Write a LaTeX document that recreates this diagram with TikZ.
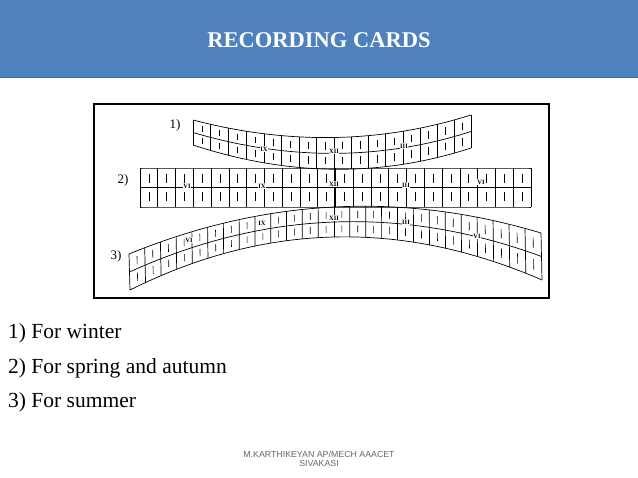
\documentclass[tikz,border=0pt]{standalone}
\usepackage{fontspec}
\setmainfont{Liberation Serif}
\newfontfamily\footfont{Liberation Sans}
\definecolor{hdr}{HTML}{4F81BD}
\definecolor{hdredge}{HTML}{3A6AA3}
\begin{document}
\begin{tikzpicture}[x=1pt,y=-1pt,
  cardline/.style={line width=0.7pt,black},
  tick/.style={line width=0.6pt,black},
  num/.style={font=\fontsize{6.5}{6.5}\selectfont\bfseries,inner sep=0.5pt,fill=white},
  item/.style={font=\fontsize{21.5}{21.5}\selectfont,anchor=west,inner sep=0pt}]
\useasboundingbox (0,0) rectangle (638,478);
\fill[white] (0,0) rectangle (638,478);
\fill[hdr] (0,0) rectangle (638,78);
\draw[hdredge,line width=1pt] (0,78) -- (638,78);
\node[text=white,font=\fontsize{22.5}{22.5}\selectfont\bfseries] (title) at (319,40) {RECORDING CARDS};
\draw[line width=2pt] (94,104) rectangle (549,298);
\newcommand\drawcard[1]{%
 \draw[cardline] (\tlx,\tly) .. controls ({\tlx/3+2*\tcx/3},{\tly/3+2*\tcy/3}) and ({\trx/3+2*\tcx/3},{\try/3+2*\tcy/3}) .. (\trx,\try);
 \draw[cardline] (\blx,\bly) .. controls ({\blx/3+2*\bcx/3},{\bly/3+2*\bcy/3}) and ({\brx/3+2*\bcx/3},{\bry/3+2*\bcy/3}) .. (\brx,\bry);
 \draw[cardline] ({(\tlx+\blx)/2},{(\tly+\bly)/2}) .. controls ({(\tlx+\blx)/6+(\tcx+\bcx)/3},{(\tly+\bly)/6+(\tcy+\bcy)/3}) and ({(\trx+\brx)/6+(\tcx+\bcx)/3},{(\try+\bry)/6+(\tcy+\bcy)/3}) .. ({(\trx+\brx)/2},{(\try+\bry)/2});
 \foreach \i in {0,...,#1}{
  \pgfmathsetmacro\t{\i/#1}
  \pgfmathsetmacro\ax{(1-\t)^2*\tlx+2*\t*(1-\t)*\tcx+\t^2*\trx}
  \pgfmathsetmacro\ay{(1-\t)^2*\tly+2*\t*(1-\t)*\tcy+\t^2*\try}
  \pgfmathsetmacro\bx{(1-\t)^2*\blx+2*\t*(1-\t)*\bcx+\t^2*\brx}
  \pgfmathsetmacro\by{(1-\t)^2*\bly+2*\t*(1-\t)*\bcy+\t^2*\bry}
  \draw[cardline] (\ax,\ay) -- (\bx,\by);
 }
 \pgfmathtruncatemacro\nm{#1-1}
 \foreach \i in {0,...,\nm}{
  \pgfmathsetmacro\t{(\i+0.5)/#1}
  \pgfmathsetmacro\ax{(1-\t)^2*\tlx+2*\t*(1-\t)*\tcx+\t^2*\trx}
  \pgfmathsetmacro\ay{(1-\t)^2*\tly+2*\t*(1-\t)*\tcy+\t^2*\try}
  \pgfmathsetmacro\bx{(1-\t)^2*\blx+2*\t*(1-\t)*\bcx+\t^2*\brx}
  \pgfmathsetmacro\by{(1-\t)^2*\bly+2*\t*(1-\t)*\bcy+\t^2*\bry}
  \draw[tick] ({\ax+0.15*(\bx-\ax)},{\ay+0.15*(\by-\ay)}) -- ({\ax+0.38*(\bx-\ax)},{\ay+0.38*(\by-\ay)});
  \draw[tick] ({\ax+0.62*(\bx-\ax)},{\ay+0.62*(\by-\ay)}) -- ({\ax+0.85*(\bx-\ax)},{\ay+0.85*(\by-\ay)});
 }}
% card 1
\def\tlx{193}\def\tly{120}\def\tcx{336}\def\tcy{157.5}\def\trx{471}\def\try{115}
\def\blx{193}\def\bly{145}\def\bcx{336}\def\bcy{192}\def\brx{471}\def\bry{148}
\drawcard{16}
% card 2
\def\tlx{140}\def\tly{168}\def\tcx{335.5}\def\tcy{168}\def\trx{531}\def\try{168}
\def\blx{140}\def\bly{207}\def\bcx{335.5}\def\bcy{207}\def\brx{531}\def\bry{207}
\drawcard{22}
% card 3
\def\tlx{129}\def\tly{254}\def\tcx{333}\def\tcy{170.5}\def\trx{541}\def\try{233}
\def\blx{130}\def\bly{290}\def\bcx{332}\def\bcy{189}\def\brx{542}\def\bry{280}
\drawcard{26}
\coordinate (vtop) at (334,152);
\coordinate (vbot) at (334,237);
\draw[cardline] (vtop) -- (vbot);
\node[font=\fontsize{13}{13}\selectfont] (l1) at (175,125) {1)};
\node[font=\fontsize{13}{13}\selectfont] (l2) at (123,180) {2)};
\node[font=\fontsize{13}{13}\selectfont] (l3) at (116,256) {3)};
\node[num] (n11) at (264,149) {IX};
\node[num] (n12) at (334,151) {XII};
\node[num] (n13) at (404,146) {III};
\node[num] (n21) at (187,186) {VI};
\node[num] (n22) at (262,186) {IX};
\node[num] (n23) at (334,184) {XII};
\node[num] (n24) at (406,185) {III};
\node[num] (n25) at (481,182) {VI};
\node[num] (n31) at (189,240) {VI};
\node[num] (n32) at (262,223) {IX};
\node[num] (n33) at (334,218) {XII};
\node[num] (n34) at (406,222) {III};
\node[num] (n35) at (477,236) {VI};
\node[item] (i1) at (8,333) {1) For winter};
\node[item] (i2) at (8,368) {2) For spring and autumn};
\node[item] (i3) at (8,402) {3) For summer};
\node[font=\footfont\fontsize{8.8}{9.5}\selectfont,text=black!60,align=center] (foot) at (319,459) {M.KARTHIKEYAN AP/MECH AAACET\\SIVAKASI};
\end{tikzpicture}
\end{document}
